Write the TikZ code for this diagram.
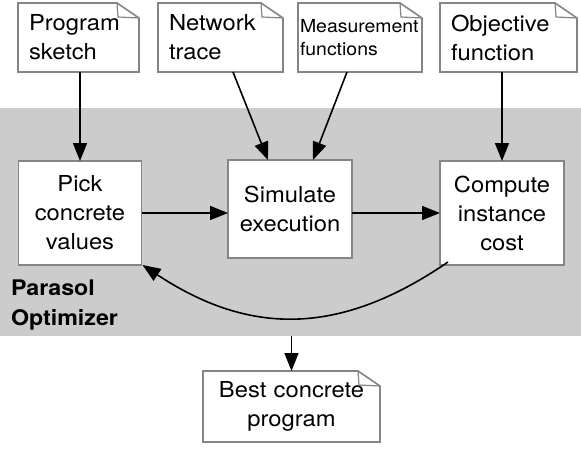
\documentclass[tikz,border=0pt]{standalone}
\usepackage{fontspec}
\setmainfont{TeX Gyre Heros}[FakeStretch=1.08]
\usetikzlibrary{arrows.meta}
\definecolor{bandgray}{HTML}{CCCCCC}
\definecolor{edgegray}{HTML}{858585}
\begin{document}
\begin{tikzpicture}[x=1pt,y=-1pt,
  every node/.style={inner sep=0pt, outer sep=0pt},
  docnode/.style={fill=white, inner xsep=11pt, align=left,
    font=\fontsize{22}{29}\selectfont},
  docsmall/.style={docnode, inner xsep=2pt, font=\fontsize{18}{23}\selectfont},
  procbox/.style={fill=white, draw=edgegray, line width=1.8pt, align=center,
    font=\fontsize{22}{29}\selectfont},
  docline/.style={draw=edgegray, line width=1.6pt, line join=miter},
  arr/.style={line width=1.6pt, -{Triangle[length=18pt,width=14pt]}},
  bandlabel/.style={align=left, font=\fontsize{21.5}{30}\selectfont\bfseries}
]
\useasboundingbox (0,0) rectangle (581,448);
\node (band) [fill=bandgray, minimum width=581pt, minimum height=228pt, anchor=north west] at (0,108) {};

% document nodes
\node (ps) [docnode, minimum width=121pt, minimum height=69pt, text width=99pt] at (78.5,37.5) {Program\\sketch};
\node (nt) [docnode, minimum width=125pt, minimum height=69pt, text width=103pt] at (220.5,37.5) {Network\\trace};
\node (mf) [docsmall, minimum width=124pt, minimum height=69pt, text width=120pt] at (360,37.5) {Measurement\\functions};
\node (of) [docnode, minimum width=137pt, minimum height=69pt, text width=115pt] at (508.5,37.5) {Objective\\function};
\node (best) [docnode, align=center, minimum width=177pt, minimum height=71pt, text width=155pt] at (291.5,406.5) {Best concrete\\program};

\foreach \n in {ps,nt,mf,of,best}{
  \draw[docline] (\n.north west) -- ([xshift=-22pt]\n.north east) -- ([yshift=-15pt]\n.north east)
     -- (\n.south east) -- (\n.south west) -- cycle;
  \draw[docline, line width=1.2pt] ([xshift=-22pt]\n.north east) -- ([xshift=-21pt,yshift=-14pt]\n.north east)
     -- ([yshift=-15pt]\n.north east);
}

% process boxes
\node (pick) [procbox, minimum width=123pt, minimum height=104pt] at (80,213) {Pick\\concrete\\values};
\node (sim) [procbox, minimum width=124pt, minimum height=98pt] at (290,209) {Simulate\\execution};
\node (comp) [procbox, minimum width=124pt, minimum height=104pt] at (502,213) {Compute\\instance\\cost};

\node (lbl) [bandlabel, anchor=north west] at (11,280) {Parasol\\Optimizer};

% connectors
\draw[arr] (pick.north |- ps.south) -- (pick.north);
\draw[arr] ([xshift=12.5pt]nt.south) -- ([xshift=-22pt]sim.north);
\draw[arr] ([xshift=-13pt]mf.south) -- ([xshift=23pt]sim.north);
\draw[arr] (comp.north |- of.south) -- (comp.north);
\draw[arr] (pick.east) -- (pick.east -| sim.west);
\draw[arr] ([yshift=-4pt]sim.east) -- ([yshift=-4pt]sim.east -| comp.west);
\draw[arr] ([xshift=8pt,yshift=3pt]comp.south west) .. controls (340,336) and (250,336) .. ([xshift=1pt]pick.south east);
\draw[arr] (best.north |- band.south) -- (best.north);
\end{tikzpicture}
\end{document}
